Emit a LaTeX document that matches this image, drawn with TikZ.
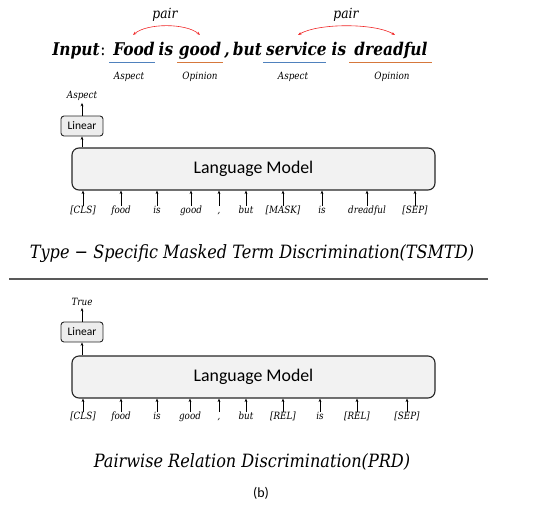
\documentclass[tikz,border=0pt]{standalone}
\usepackage{fontspec}
\setmainfont{DejaVu Serif}
\newfontfamily\camfont{DejaVu Serif}[FakeStretch=0.88]
\newfontfamily\calfont{Carlito}
\usetikzlibrary{arrows.meta}
\definecolor{ulblue}{RGB}{79,129,189}
\definecolor{ulorange}{RGB}{214,120,60}
\definecolor{pairred}{RGB}{240,40,40}
\begin{document}
\begin{tikzpicture}[x=1pt,y=-1pt,
  word/.style={anchor=base,inner sep=0pt,font=\camfont\bfseries\itshape\fontsize{17.5}{17.5}\selectfont},
  colon/.style={anchor=base,inner sep=0pt,font=\camfont\fontsize{17.5}{17.5}\selectfont},
  tag/.style={inner sep=0pt,font=\camfont\itshape\fontsize{10}{10}\selectfont},
  pairlbl/.style={inner sep=0pt,font=\camfont\itshape\fontsize{14}{14}\selectfont},
  tok/.style={inner sep=0pt,text height=7.5pt,text depth=2.5pt,font=\camfont\itshape\fontsize{10}{10}\selectfont},
  outlbl/.style={inner sep=2pt,font=\camfont\itshape\fontsize{10}{10}\selectfont},
  title/.style={inner sep=0pt,font=\camfont\itshape\fontsize{18.3}{18.3}\selectfont},
  lmbox/.style={draw=black!85,line width=1.1pt,fill=black!5,rounded corners=7pt,
     minimum width=363pt,minimum height=42pt,inner sep=0pt,font=\calfont\fontsize{17.8}{17.8}\selectfont},
  linbox/.style={draw=black!85,line width=0.9pt,fill=black!7,rounded corners=3pt,
     minimum width=42pt,minimum height=20pt,inner sep=0pt,font=\calfont\fontsize{11.5}{11.5}\selectfont},
  arr/.style={-{Stealth[length=3.5pt,width=2.8pt]},line width=0.7pt,black},
  pairarr/.style={{Stealth[length=3.5pt,width=2.6pt]}-{Stealth[length=3.5pt,width=2.6pt]},line width=0.6pt,pairred},
  uline/.style={line width=1.8pt}
]
\useasboundingbox (0,0) rectangle (540,517);

% ---------- input sentence ----------
\node[word] (wInput) at (76,55) {Input};
\node[colon] (wColon) at (103,55) {:};
\node[word] (wFood) at (134,55) {Food};
\node[word] (wIs1) at (166,55) {is};
\node[word] (wGood) at (200,55) {good};
\node[word] (wComma) at (227,55) {,};
\node[word] (wBut) at (247.5,55) {but};
\node[word] (wService) at (296.5,55) {service};
\node[word] (wIs2) at (339,55) {is};
\node[word] (wDreadful) at (391,55) {dreadful};

% underlines
\coordinate (ua1) at (109,62.5); \coordinate (ub1) at (155,62.5);
\coordinate (ua2) at (177,62.5); \coordinate (ub2) at (223,62.5);
\coordinate (ua3) at (263,62.5); \coordinate (ub3) at (326,62.5);
\coordinate (ua4) at (349,62.5); \coordinate (ub4) at (432,62.5);
\draw[uline,ulblue] (ua1) -- (ub1);
\draw[uline,ulorange] (ua2) -- (ub2);
\draw[uline,ulblue] (ua3) -- (ub3);
\draw[uline,ulorange] (ua4) -- (ub4);

\node[tag] (tagA1) at (129,77) {Aspect};
\node[tag] (tagO1) at (200,77) {Opinion};
\node[tag] (tagA2) at (293,77) {Aspect};
\node[tag] (tagO2) at (392,77) {Opinion};

% pair arcs
\node[pairlbl] (pair1) at (165,15) {pair};
\node[pairlbl] (pair2) at (346,15) {pair};
\coordinate (pa1) at (133,35); \coordinate (pb1) at (200,35);
\coordinate (pa2) at (298,35); \coordinate (pb2) at (395,35);
\draw[pairarr] (pa1) .. controls +(14,-12) and +(-14,-12) .. (pb1);
\draw[pairarr] (pa2) .. controls +(20,-12) and +(-20,-12) .. (pb2);

% ---------- TSMTD ----------
\node[outlbl] (out1) at (82,96) {Aspect};
\node[linbox] (lin1) at (82,126) {Linear};
\node[lmbox] (lm1) at (253.5,169) {Language Model};
\draw[arr] (lin1.north) -- (out1.south);
\draw[arr] (lm1.north -| lin1.south) -- (lin1.south);

\foreach \n/\x/\t in {1/83/{[CLS]},2/121/{food},3/157/{is},4/191/{good},5/219/{,},
   6/246/{but},7/283/{[MASK]},8/322/{is},9/367/{dreadful},10/415/{[SEP]}}{
  \node[tok,anchor=north] (ta\n) at (\x,206) {\t};
  \draw[arr] (ta\n.north) -- (ta\n.north |- lm1.south);
}

\node[title] (title1) at (252,254) {Type − Specific Masked Term Discrimination(TSMTD)};

\coordinate (sepL) at (9,279); \coordinate (sepR) at (488,279);
\draw[line width=1.5pt,black!65] (sepL) -- (sepR);

% ---------- PRD ----------
\node[outlbl] (out2) at (82,302) {True};
\node[linbox] (lin2) at (82,332) {Linear};
\node[lmbox] (lm2) at (253.5,377) {Language Model};
\draw[arr] (lin2.north) -- (out2.south);
\draw[arr] (lm2.north -| lin2.south) -- (lin2.south);

\foreach \n/\x/\t in {1/83/{[CLS]},2/121/{food},3/157/{is},4/190/{good},5/219/{,},
   6/246/{but},7/283/{[REL]},8/320/{is},9/357/{[REL]},10/407/{[SEP]}}{
  \node[tok,anchor=north] (tb\n) at (\x,412) {\t};
  \draw[arr] (tb\n.north) -- (tb\n.north |- lm2.south);
}

\node[title] (title2) at (252,462) {Pairwise Relation Discrimination(PRD)};
\node[inner sep=0pt,font=\calfont\fontsize{14}{14}\selectfont] (capb) at (261,493) {(b)};
\end{tikzpicture}
\end{document}
